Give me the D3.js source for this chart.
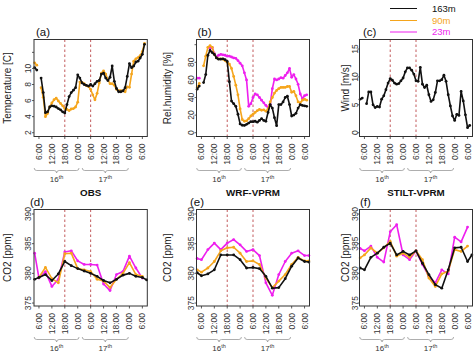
<!DOCTYPE html>
<html><head><meta charset="utf-8">
<script src="https://cdn.jsdelivr.net/npm/d3@7"></script>
<style>
body{margin:0;background:#fff}
svg{display:block}
text{font-family:"Liberation Sans",Arial,Helvetica,sans-serif}
</style>
</head><body>
<svg id="chart" width="474" height="353"></svg>
<script>
// ---------------- DATA ----------------
// hourly time axis (hours since 0:00 on the 16th)
const hours = [4,5,6,7,8,9,10,11,12,13,14,15,16,17,18,19,20,21,22,23,24,25,26,27,28,29,30,31,32,33,34,35,36,37,38,39,40,41,42,43,44,45,46,47,48,49,50,51,52,53,54,55];

const tempBlack = [10.1,9.8,null,8.8,7.0,4.5,4.6,5.2,5.35,5.3, 5.2,5.0,4.85,4.6,4.45,5.5,6.5,7.0,7.3,7.6, 9.2,8.8,8.2,8.0,7.9,7.8,8.0,7.8,8.1,8.4, 8.5,9.3,9.4,8.8,8.5,8.9,10.3,8.4,7.5,7.1, 7.1,7.2,7.6,9.0,10.6,10.1,10.3,10.8,10.9,11.3, 11.75,13.0];
const tempOrange = [10.7,10.4,null,7.6,6.4,4.0,4.4,5.2,5.7,6.1, 6.3,5.95,5.65,5.35,5.0,4.9,4.75,4.95,5.0,5.2, 5.8,8.3,8.25,8.1,7.85,7.75,7.4,6.7,6.1,6.9, 8.2,9.4,9.7,9.3,8.6,8.1,8.1,7.9,7.4,7.25, 7.25,7.2,7.1,7.7,7.65,9.3,10.9,11.2,11.35,11.6, 12.1,13.1];

const rhBlack = [49.5,53,null,57,66,88,93.5,91,89,85, 83.5,83.5,84,83,81,58,36,33,30,21, 10,8.5,8.3,9.5,11,12.5,12.5,13,12,14, 16,14,13,23,32,28,17,8,32,32, 35,40,41.5,32,19,20,22,28,32,31, 30.5,30];
const rhOrange = [51,56,null,76,87,97,99,97,89,85, 84,84,83.5,82,80,78,73,64,54,43, 27,15,13,13.5,16,19,21,23,25,26.5, 25.5,26,24.5,27,35,40,45,48,50,51.5, 51.5,51.5,52.5,52.5,46,47,42,35,34,37, 38,37];
const rhMagenta = [62,62,null,null,null,null,96,97,90,86, 88,89,88.5,88,87,87,86,85,84.5,82, 79,76,68,60,30,33,40,44,43,40, 37,34,31,29,32,50,61,60,61,62.5, 62,65,68,73,63,66,61,55,44,39, 42,43];

const windBlack = [6.0,6.2,null,5.2,7.3,7.3,5.0,4.5,4.7,4.6, 6.0,6.6,7.7,8.9,9.7,9.4,8.9,8.7,8.8,9.3, 9.8,10.9,11.6,11.6,11.2,10.5,9.3,9.2,11.7,8.7, 8.1,8.5,6.8,5.6,5.9,7.2,9.3,9.3,9.5,10.3, 9.2,6.8,4.8,3.0,2.2,3.3,3.1,7.4,5.7,3.2, 0.9,1.3];

// 3-hourly CO2 time axis
const co2Hours = [4,6,9,12,15,18,21,24,27,30,33,36,39,42,45,48,51,54,56];
const obsBlack   = [379.0,379.3,379.8,378.8,379.9,382.0,381.3,380.8,380.4,380.0,379.5,378.8,378.4,379.0,379.7,380.0,379.5,379.3,378.9];
const obsOrange  = [null,379.3,381.0,379.1,378.4,383.3,383.4,380.8,380.6,380.3,379.0,378.7,377.6,379.0,380.0,381.8,379.8,379.5,null];
const obsMagenta = [383.4,379.2,380.3,377.8,379.0,383.6,383.8,382.1,381.5,381.5,381.4,378.2,377.1,379.8,380.3,382.9,380.9,379.2,null];

const wrfBlack   = [380.1,379.6,379.9,380.6,383.1,383.1,383.1,382.3,380.9,381.0,380.8,379.5,377.5,377.6,379.1,381.2,382.6,382.0,381.9];
const wrfOrange  = [380.6,380.2,380.9,382.0,383.8,384.3,384.4,383.4,382.0,382.1,381.5,379.2,377.6,378.7,379.8,381.5,382.7,382.1,382.1];
const wrfMagenta = [382.5,382.3,384.0,385.1,384.0,385.1,385.7,384.8,383.7,384.0,383.0,378.4,376.3,379.8,382.0,383.4,383.8,383.0,383.0];

const stiltBlack   = [380.9,380.6,382.7,383.4,384.4,385.1,383.1,383.7,383.1,383.8,381.7,379.8,378.1,377.5,380.6,384.3,384.4,382.0,383.1];
const stiltOrange  = [382.6,383.1,384.3,383.4,384.3,385.4,382.9,383.4,382.7,383.8,382.3,379.2,377.8,379.9,380.4,384.0,383.7,384.6,null];
const stiltMagenta = [384.2,383.8,384.6,382.7,381.9,387.0,388.2,383.1,382.3,383.8,381.5,379.5,378.4,380.6,379.9,386.1,385.3,387.8,null];

const timeTicks = [6,12,18,24,30,36,42,48,54];
const timeTickLabels = ["6:00","12:00","18:00","0:00","6:00","12:00","18:00","0:00","6:00"];
const eventHours = [18,30];
const dayLabels = ["16","17"];
const dayRanges = [[3.8,24.6],[26.1,47.5]];
const seriesNames = ["163m","90m","23m"];

// ---------------- STYLE / LAYOUT ----------------
const COLORS = {black:"#111111", orange:"#f5a51c", magenta:"#ee1fee"};
const rows = [
  {y0:39.5, y1:136.5, tickLab:143.5, brace:168, dayLab:182, letterY:36},
  {y0:209.5, y1:306, tickLab:313, brace:337, dayLab:350.5, letterY:206}
];
const cols = [
  {x0:34, x1:147.3, titleOff:27, labOff:3, letterX:36, letterX2:30},
  {x0:196.5, x1:309.5, titleOff:29, labOff:3, letterX:197.5, letterX2:190},
  {x0:359.5, x1:472.5, titleOff:14, labOff:1.8, letterX:363, letterX2:360}
];

const panels = [
  {row:0,col:0,letter:"(a)",ytitle:"Temperature [C]",domain:[1.53,13.6],ticks:[2,4,6,8,10,12],labeled:[2,4,6,8,10],
   t:hours, series:[{v:tempOrange,c:COLORS.orange},{v:tempBlack,c:COLORS.black}]},
  {row:0,col:1,letter:"(b)",ytitle:"Rel.humidity [%]",domain:[-4.3,105.9],ticks:[0,20,40,60,80,100],labeled:[0,20,40,60,80],
   t:hours, series:[{v:rhMagenta,c:COLORS.magenta},{v:rhOrange,c:COLORS.orange},{v:rhBlack,c:COLORS.black}]},
  {row:0,col:2,letter:"(c)",ytitle:"Wind [m/s]",domain:[-0.68,16.7],ticks:[0,5,10,15],labeled:[0,5,10,15],
   t:hours, series:[{v:windBlack,c:COLORS.black}]},
  {row:1,col:0,letter:"(d)",heading:"OBS",ytitle:"CO2 [ppm]",domain:[374.5,390.76],ticks:[375,380,385,390],labeled:[375,380,385,390],
   t:co2Hours, series:[{v:obsMagenta,c:COLORS.magenta},{v:obsOrange,c:COLORS.orange},{v:obsBlack,c:COLORS.black}]},
  {row:1,col:1,letter:"(e)",heading:"WRF-VPRM",ytitle:"CO2 [ppm]",domain:[374.5,390.76],ticks:[375,380,385,390],labeled:[375,380,385,390],
   t:co2Hours, series:[{v:wrfMagenta,c:COLORS.magenta},{v:wrfOrange,c:COLORS.orange},{v:wrfBlack,c:COLORS.black}]},
  {row:1,col:2,letter:"(f)",heading:"STILT-VPRM",ytitle:"CO2 [ppm]",domain:[374.5,390.76],ticks:[375,380,385,390],labeled:[375,380,385,390],
   t:co2Hours, series:[{v:stiltMagenta,c:COLORS.magenta},{v:stiltOrange,c:COLORS.orange},{v:stiltBlack,c:COLORS.black}]}
];

const svg = d3.select("#chart");
svg.append("rect").attr("width",474).attr("height",353).attr("fill","#fff");

panels.forEach(p => {
  const R = rows[p.row], C = cols[p.col];
  const x = d3.scaleLinear().domain([3.7,56.3]).range([C.x0, C.x1]);
  const y = d3.scaleLinear().domain(p.domain).range([R.y1, R.y0]);
  const g = svg.append("g");

  // event lines
  eventHours.forEach(h => {
    g.append("line").attr("x1",x(h)).attr("x2",x(h)).attr("y1",R.y0).attr("y2",R.y1)
      .attr("stroke","#c25a5c").attr("stroke-width",1).attr("stroke-dasharray","2.5,2.5");
  });

  // series
  p.series.forEach(s => {
    const pts = p.t.map((h,i)=>({h, v:s.v[i]}));
    const line = d3.line().defined(d=>d.v!==null).x(d=>x(d.h)).y(d=>y(d.v));
    g.append("path").datum(pts).attr("d",line).attr("fill","none")
      .attr("stroke",s.c).attr("stroke-width",1.6).attr("stroke-linejoin","round");
    g.selectAll(null).data(pts.filter(d=>d.v!==null)).enter().append("circle")
      .attr("cx",d=>x(d.h)).attr("cy",d=>y(d.v)).attr("r",1.4).attr("fill",s.c);
  });

  // box
  g.append("rect").attr("x",C.x0).attr("y",R.y0).attr("width",C.x1-C.x0).attr("height",R.y1-R.y0)
    .attr("fill","none").attr("stroke","#333").attr("stroke-width",1);

  // x ticks
  timeTicks.forEach((h,i) => {
    g.append("line").attr("x1",x(h)).attr("x2",x(h)).attr("y1",R.y1).attr("y2",R.y1+2.5)
      .attr("stroke","#333").attr("stroke-width",0.8);
    g.append("text").attr("transform",`translate(${x(h)},${R.tickLab}) rotate(-90)`)
      .attr("text-anchor","end").attr("dy","0.35em").attr("font-size",8.5).attr("fill","#333")
      .text(timeTickLabels[i]);
  });

  // y ticks
  p.ticks.forEach(v => {
    g.append("line").attr("x1",C.x0-2).attr("x2",C.x0).attr("y1",y(v)).attr("y2",y(v))
      .attr("stroke","#333").attr("stroke-width",0.8);
  });
  p.labeled.forEach(v => {
    g.append("text").attr("transform",`translate(${C.x0-C.labOff},${y(v)}) rotate(-90)`)
      .attr("text-anchor","middle").attr("font-size",8.5).attr("fill","#333").text(v);
  });

  // y title
  g.append("text").attr("transform",`translate(${C.x0-C.titleOff},${(R.y0+R.y1)/2}) rotate(-90)`)
    .attr("text-anchor","middle").attr("dy","0.35em").attr("font-size",10).attr("fill","#222").text(p.ytitle);

  // braces + day labels
  dayRanges.forEach((rg,i) => {
    const a = x(rg[0]), b = x(rg[1]), m = (a+b)/2, y0 = R.brace, r = 2.5;
    const d = `M${a},${y0} Q${a},${y0+r} ${a+r},${y0+r} L${m-r},${y0+r} Q${m},${y0+r} ${m},${y0+2*r} Q${m},${y0+r} ${m+r},${y0+r} L${b-r},${y0+r} Q${b},${y0+r} ${b},${y0}`;
    g.append("path").attr("d",d).attr("fill","none").attr("stroke","#999").attr("stroke-width",0.8);
    const t = g.append("text").attr("x",m).attr("y",R.dayLab).attr("text-anchor","middle")
      .attr("font-size",8).attr("fill","#333");
    t.append("tspan").text(dayLabels[i]);
    t.append("tspan").attr("font-size",5.5).attr("dy",-3).text("th");
  });

  // panel letter
  const lx = p.row===0 ? C.letterX : C.letterX2;
  g.append("text").attr("x",lx).attr("y",R.letterY).attr("font-size",11.5).attr("fill","#111").text(p.letter);

  // heading
  if (p.heading) {
    g.append("text").attr("x",(C.x0+C.x1)/2).attr("y",196).attr("text-anchor","middle")
      .attr("font-size",9.8).attr("font-weight","bold").attr("fill","#111").text(p.heading);
  }
});

// legend
const legColors = [COLORS.black, COLORS.orange, COLORS.magenta];
const legY = [8.5, 20.5, 32];
seriesNames.forEach((n,i) => {
  svg.append("line").attr("x1",390).attr("x2",417).attr("y1",legY[i]).attr("y2",legY[i])
    .attr("stroke",legColors[i]).attr("stroke-width",1);
  svg.append("text").attr("x",432).attr("y",legY[i]).attr("dy","0.35em").attr("font-size",9.5)
    .attr("fill",legColors[i]).text(n);
});
</script>
</body></html>
